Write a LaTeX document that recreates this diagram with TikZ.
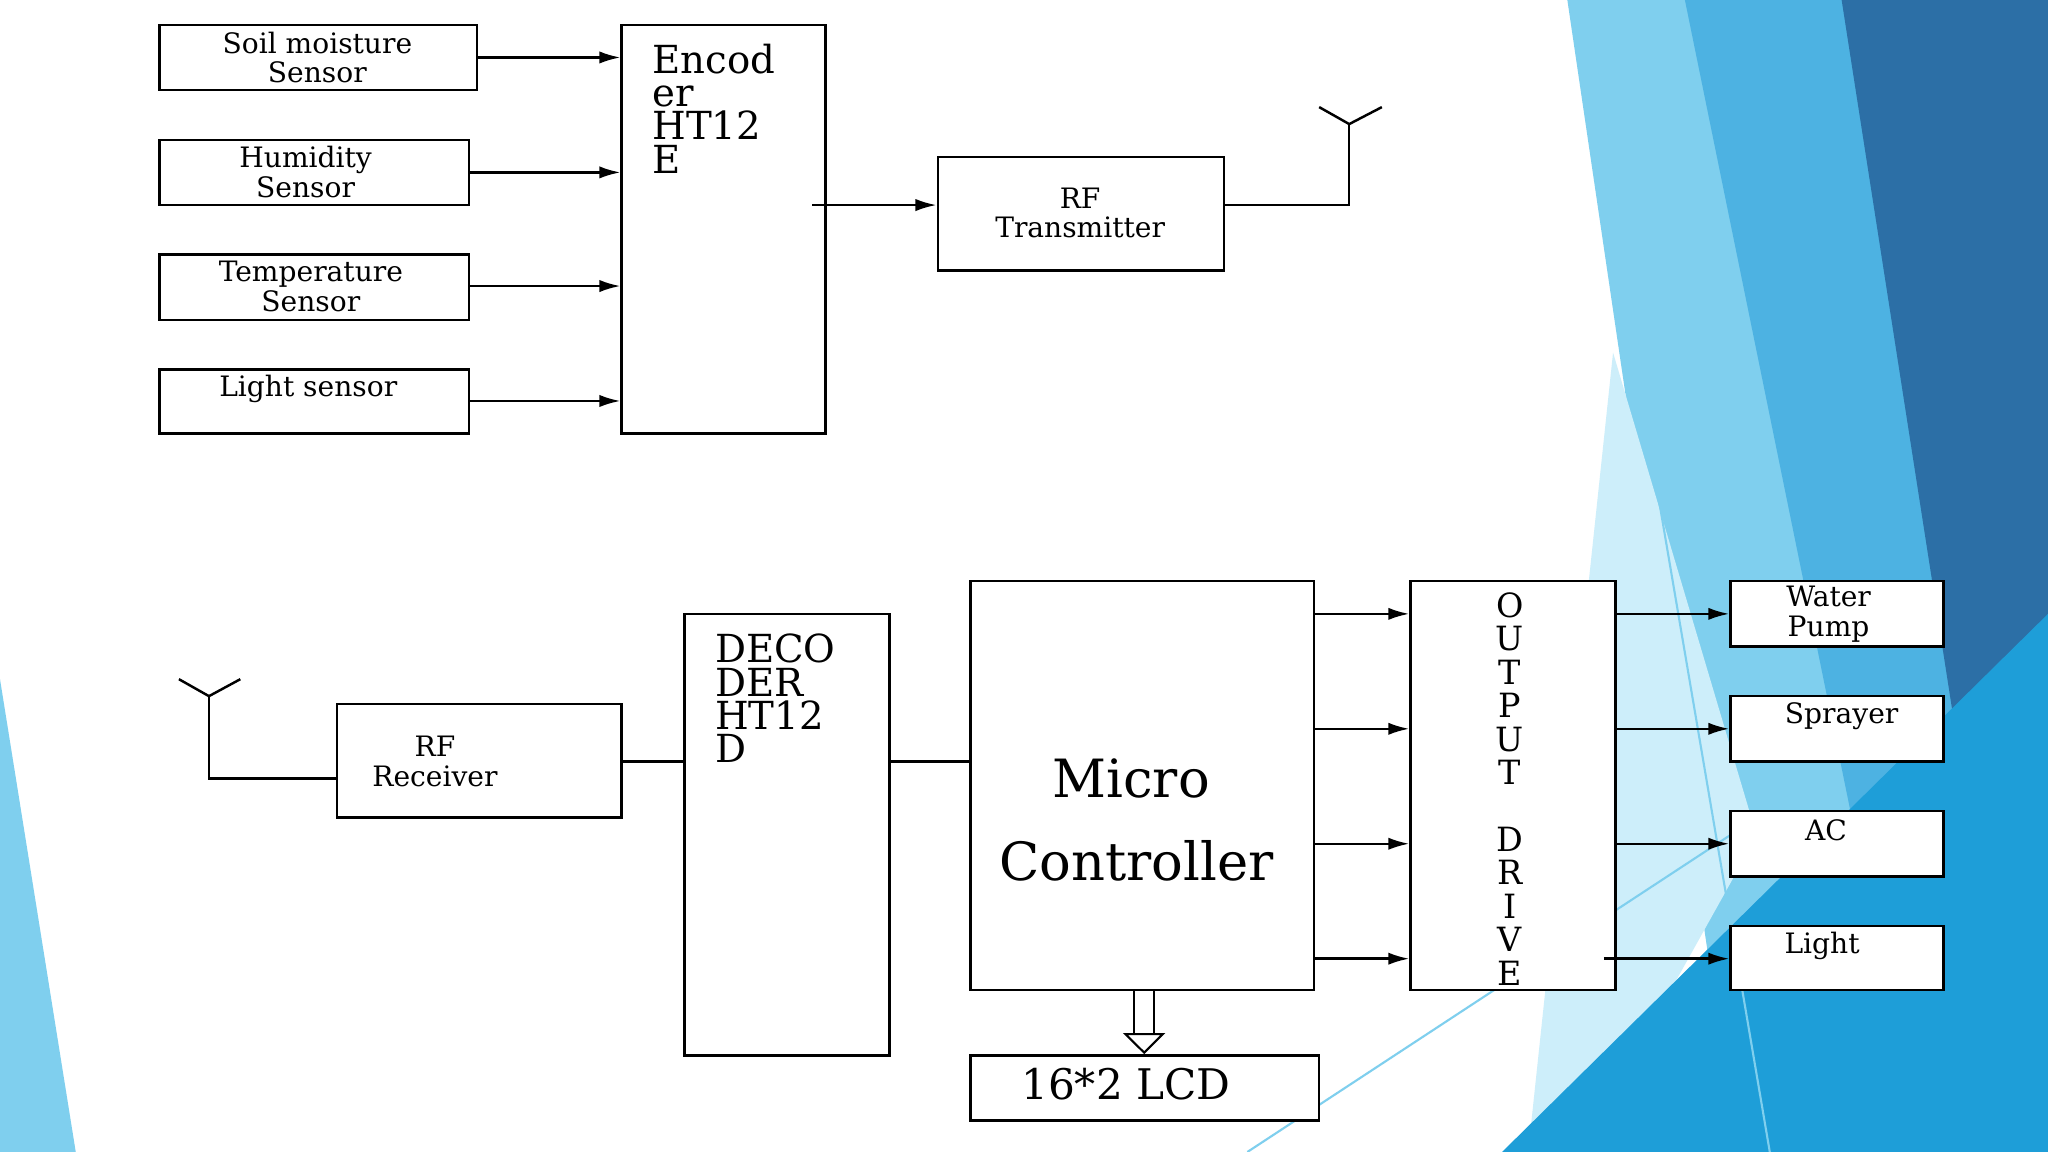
\documentclass[tikz,border=0pt]{standalone}
\usepackage{fontspec}
\setmainfont{DejaVu Serif}
\usetikzlibrary{arrows.meta}
\definecolor{bgA}{HTML}{7FCFEE}
\definecolor{bgB}{HTML}{CDEEFA}
\definecolor{bgC}{HTML}{4DB2E2}
\definecolor{bgD}{HTML}{2C6FA6}
\definecolor{bgE}{HTML}{1E9ED8}
\begin{document}
\begin{tikzpicture}[x=0.013061cm,y=-0.013061cm,
  box/.style={draw=black,fill=white,line width=0.7pt,inner sep=0pt},
  bx/.style n args={2}{box,minimum width=#1*0.37162pt,minimum height=#2*0.37162pt},
  ln/.style={line width=0.7pt},
  arr/.style={line width=0.7pt,-{Latex[length=6pt,width=3.5pt]}},
  sm/.style={font=\fontsize{8}{8.5}\selectfont,align=center},
  md/.style={font=\fontsize{11}{9.5}\selectfont,align=left,anchor=north west},
  lt/.style={font=\fontsize{9.5}{9.5}\selectfont,inner sep=0pt}]
\useasboundingbox (0,0) rectangle (1568,882);
\fill[white] (0,0) rectangle (1568,882);
% background
\fill[bgA] (1200,0)--(1568,0)--(1568,882)--(1330,882)--cycle;
\fill[bgB] (1235,270)--(1345,640)--(1210,882)--(1170,882)--cycle;
\fill[bgC] (1290,0)--(1568,0)--(1568,882)--(1470,882)--cycle;
\fill[bgD] (1410,0)--(1568,0)--(1568,470)--(1505,610)--cycle;
\fill[bgE] (1150,882)--(1568,470)--(1568,882)--cycle;
\fill[bgA] (0,520)--(58,882)--(0,882)--cycle;
\draw[bgA,line width=0.6pt] (1205,0)--(1355,882);
\draw[bgA,line width=0.6pt] (955,882)--(1400,590);
% top
\node[bx={243}{50}] (soil) at (243.5,44) {};
\node[sm] at (243,44) {Soil moisture\\Sensor};
\node[bx={237}{50}] (hum) at (240.5,132) {};
\node[sm] at (234,132) {Humidity\\Sensor};
\node[bx={237}{50}] (temp) at (240.5,220) {};
\node[sm] at (238,219) {Temperature\\Sensor};
\node[bx={237}{49}] (light) at (240.5,307.5) {};
\node[sm] at (236,298) {Light sensor};
\node[bx={156}{313}] (enc) at (554,175.5) {};
\node[md] at (490,24) {Encod\\er\\HT12\\E};
\foreach \n/\y in {soil/44,hum/132,temp/219,light/307}
  \draw[arr] (\n.east |- 0,\y) -- (enc.west |- 0,\y);
\node[bx={219}{87}] (rft) at (827.5,163.5) {};
\node[sm] at (827,163) {RF\\Transmitter};
\coordinate (encout) at (622,157);
\draw[arr] (encout) -- (rft.west |- encout);
\coordinate (ta) at (1033,95);
\draw[ln] (rft.east |- 0,157) -| (ta);
\draw[ln] (1010,82)--(ta)--(1058,82);
% bottom
\node[bx={218}{87}] (rfr) at (367,582.5) {};
\node[sm] at (333,583) {RF\\Receiver};
\coordinate (ra) at (160,533);
\draw[ln] (137,520)--(ra)--(184,520);
\draw[ln] (ra) |- (rfr.west |- 0,596);
\node[bx={157}{338}] (dec) at (602.5,639) {};
\node[md] at (538,476) {DECO\\DER\\HT12\\D};
\draw[ln] (rfr.east |- 0,583) -- (dec.west |- 0,583);
\node[bx={263}{313}] (mc) at (874.5,601.5) {};
\node[font=\fontsize{15}{15}\selectfont] at (866,596) {Micro};
\node[font=\fontsize{15}{15}\selectfont] at (870,659) {Controller};
\draw[ln] (dec.east |- 0,583) -- (mc.west |- 0,583);
\node[bx={157}{313}] (od) at (1158.5,601.5) {};
\foreach \c [count=\i] in {O,U,T,P,U,T}
  \node[lt] at (1156,{438+25.6*\i}) {\c};
\foreach \c [count=\i] in {D,R,I,V,E}
  \node[lt] at (1156,{617+25.6*\i}) {\c};
\node[bx={267}{50}] (lcd) at (876.5,833) {};
\node[font=\fontsize{12}{14}\selectfont] at (862,830) {16*2 LCD};
\draw[line width=0.6pt,-{Triangle[open,length=6pt,width=12pt]},double distance=5pt] (mc.south -| 876,0) -- (lcd.north -| 876,0);
\node[bx={163}{50}] (wp) at (1406.5,470) {};
\node[sm] at (1400,470) {Water\\Pump};
\node[bx={163}{50}] (sp) at (1406.5,558) {};
\node[sm] at (1410,548) {Sprayer};
\node[bx={163}{50}] (ac) at (1406.5,646) {};
\node[sm] at (1398,636) {AC};
\node[bx={163}{49}] (li) at (1406.5,733.5) {};
\node[sm] at (1395,724) {Light};
\foreach \y in {470,558,646,734}
  \draw[arr] (mc.east |- 0,\y) -- (od.west |- 0,\y);
\draw[arr] (od.east |- 0,470) -- (wp.west |- 0,470);
\draw[arr] (od.east |- 0,558) -- (sp.west |- 0,558);
\draw[arr] (od.east |- 0,646) -- (ac.west |- 0,646);
\coordinate (odl) at (1228,734);
\draw[arr] (odl) -- (li.west |- odl);
\end{tikzpicture}
\end{document}
